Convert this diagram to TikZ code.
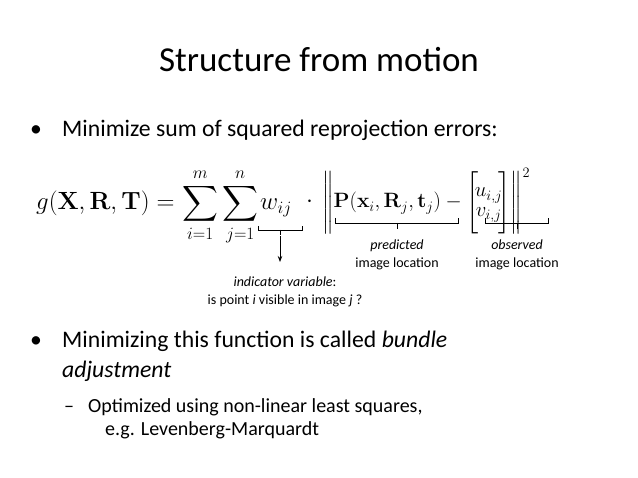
\documentclass[tikz,border=0pt]{standalone}
\usepackage{amsmath}
\usepackage[no-math]{fontspec}
\setmainfont{Carlito}
\usetikzlibrary{arrows.meta}
\tikzset{
  ttl/.style={font=\fontsize{35}{40}\selectfont, anchor=base},
  bul/.style={font=\fontsize{23.7}{26}\selectfont, anchor=base west, inner sep=0},
  sub/.style={font=\fontsize{20}{24}\selectfont, anchor=base west, inner sep=0},
  lbl/.style={font=\fontsize{14}{16}\selectfont, anchor=base, inner sep=0},
  eqn/.style={font=\fontsize{25}{28}\selectfont, anchor=base west, inner sep=0},
  brk/.style={line width=0.9pt},
}
\begin{document}
\begin{tikzpicture}[x=1pt,y=-1pt]
\useasboundingbox (0,0) rectangle (638,478);
\node[ttl] (title) at (319,72) {Structure from motion};
\node[bul] (d1) at (30,137) {\textbullet};
\node[bul] (b1) at (62,137) {Minimize sum of squared reprojection errors:};
\node[eqn] (e1) at (36,210) {$g(\mathbf{X},\mathbf{R},\mathbf{T}) =$};
\node[eqn] (e2) at (182,210) {$\displaystyle\sum_{i=1}^{m}\sum_{j=1}^{n}$};
\node[eqn] (e3) at (260,210) {$w_{ij}$};
\node[eqn] (e4) at (306,208) {$\cdot$};
\node[eqn, font=\fontsize{22}{26}\selectfont] (e5) at (322,208) {\renewcommand\arraystretch{0.75}$\Bigg\|\mathbf{P}(\mathbf{x}_i,\mathbf{R}_j,\mathbf{t}_j)-\Bigg[\!\begin{matrix}u_{i,j}\\ v_{i,j}\end{matrix}\!\Bigg]\Bigg\|^{2}$};
\draw[brk] (258,226) -- (258,230) -- (302,230) -- (302,226) (280,230) -- (280,235);
\draw[brk] (335,218) -- (335,223) -- (458,223) -- (458,218) (397,223) -- (397,229);
\draw[brk] (485,218) -- (485,223) -- (548,223) -- (548,218) (517,223) -- (517,229);
\coordinate (wt) at (280,236);
\coordinate (wb) at (280,262);
\draw[-{Stealth[length=6pt]}, line width=0.9pt] (wt) -- (wb);
\node[lbl] (p1) at (397,250) {\itshape predicted};
\node[lbl] (p2) at (397,268) {image location};
\node[lbl] (o1) at (517,250) {\itshape observed};
\node[lbl] (o2) at (517,268) {image location};
\node[lbl] (i1) at (285,287) {\itshape indicator variable\upshape:};
\node[lbl] (i2) at (285,305) {is point \textit{i} visible in image \textit{j} ?};
\node[bul] (d2) at (30,348) {\textbullet};
\node[bul] (b2) at (62,348) {Minimizing this function is called \textit{bundle}};
\node[bul] (b2b) at (62,378) {\textit{adjustment}};
\node[sub] (s1d) at (64,413) {–};
\node[sub] (s1) at (88,413) {Optimized using non-linear least squares,};
\node[sub] (s2) at (105,436) {e.g. Levenberg-Marquardt};
\end{tikzpicture}
\end{document}
